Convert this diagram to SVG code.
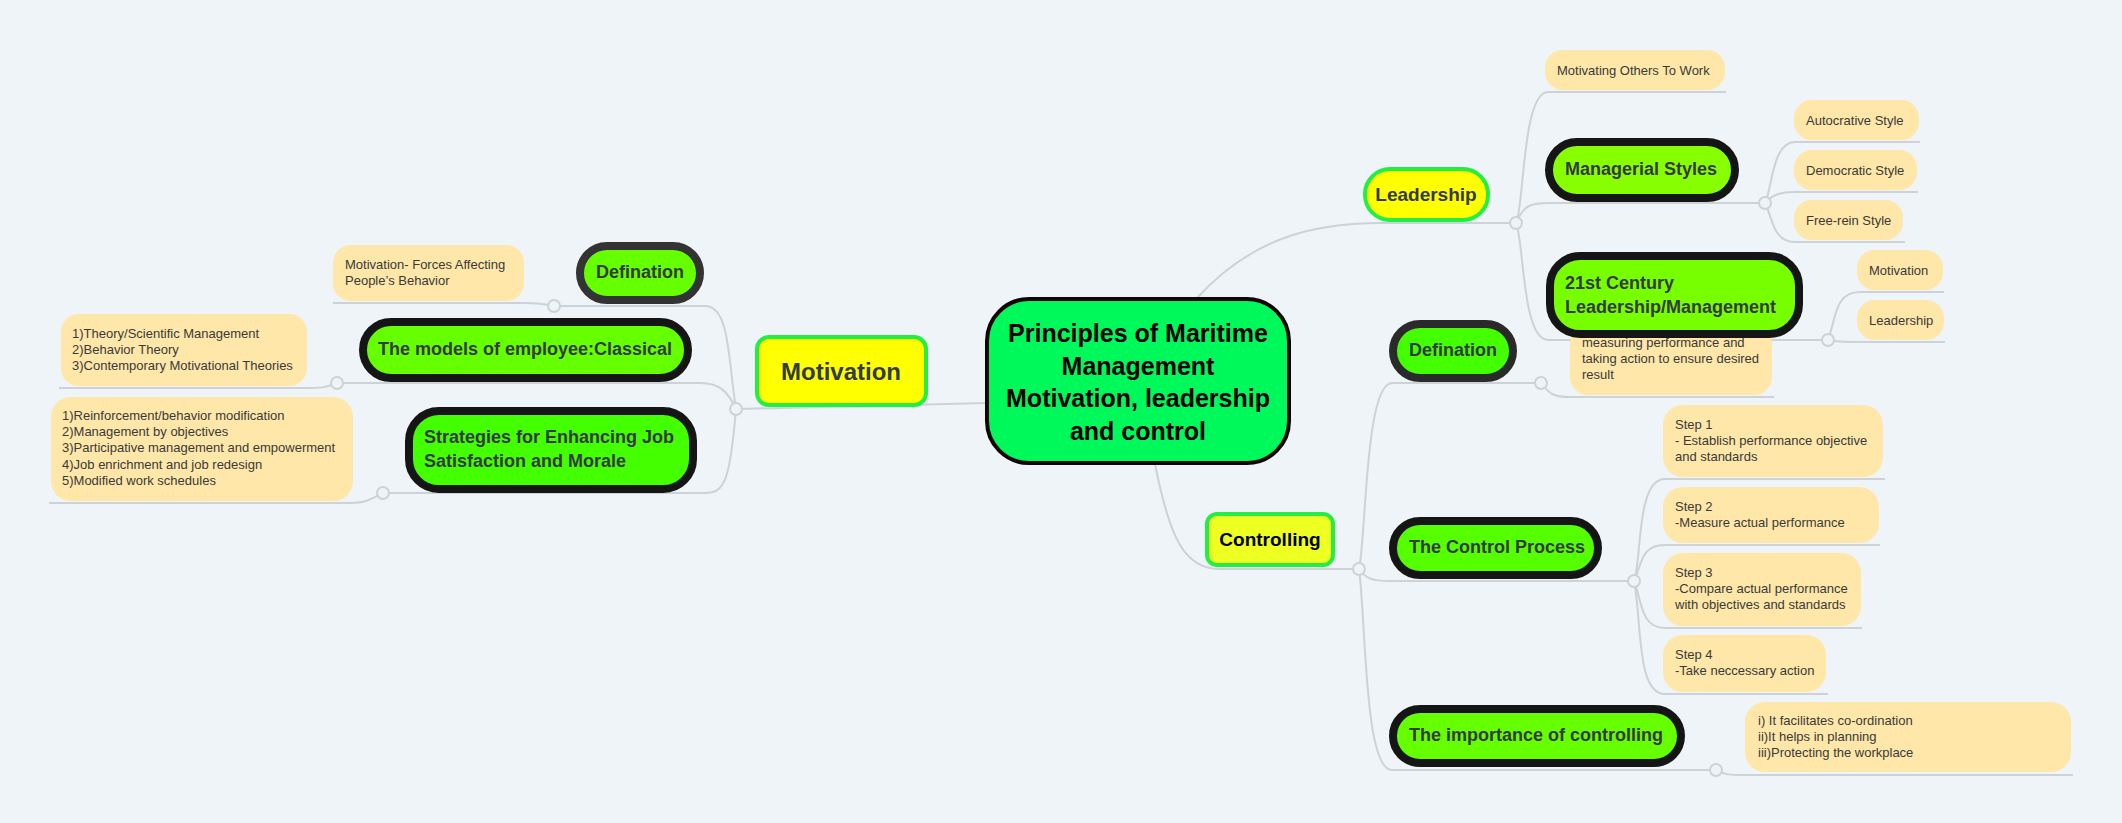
<svg xmlns="http://www.w3.org/2000/svg" width="2122" height="823" viewBox="0 0 2122 823">
<style>
text{font-family:"Liberation Sans",Arial,sans-serif;dominant-baseline:central}
.c{fill:none;stroke:#cdd2d6;stroke-width:2}
.j{fill:#eef3f6;stroke:#cdd2d6;stroke-width:2}
.leaf{fill:#fee7a8}
.lt{font-size:13px;fill:#3a3a3a}
.m{stroke:#151515;stroke-width:8}
.mt{font-size:18px;font-weight:bold;fill:#333a40}
</style>
<rect width="2122" height="823" fill="#eef4f7"/>
<g id="connectors">
<path class="c" d="M987,403 L736,409"/>
<path class="c" d="M736,409 C728,360 730,306 705,306 L554,306"/>
<path class="c" d="M554,306 C545,304 540,303 525,303 L333,303"/>
<path class="c" d="M736,409 C728,392 720,383 700,383 L337,383"/>
<path class="c" d="M337,383 C325,388 320,388 307,388 L59,388"/>
<path class="c" d="M736,409 C730,480 725,493 705,493 L383,493"/>
<path class="c" d="M383,493 C370,500 365,503 350,503 L49,503"/>
<path class="c" d="M1197,298 C1250,240 1310,223 1380,223 L1516,223"/>
<path class="c" d="M1516,223 C1524,210 1522,92 1548,92 L1726,92"/>
<path class="c" d="M1516,223 C1524,205 1530,203 1550,203 L1765,203"/>
<path class="c" d="M1516,223 C1524,240 1522,340 1548,340 L1828,340"/>
<path class="c" d="M1765,203 C1772,190 1772,142 1795,142 L1920,142"/>
<path class="c" d="M1765,203 C1772,195 1780,192 1795,192 L1918,192"/>
<path class="c" d="M1765,203 C1772,215 1772,242 1795,242 L1905,242"/>
<path class="c" d="M1828,340 C1836,320 1834,292 1860,292 L1944,292"/>
<path class="c" d="M1828,340 C1836,342 1845,342 1860,342 L1945,342"/>
<path class="c" d="M1155,464 C1170,540 1185,569 1220,569 L1359,569"/>
<path class="c" d="M1359,569 C1366,540 1365,383 1392,383 L1541,383"/>
<path class="c" d="M1541,383 C1550,395 1555,397 1570,397 L1774,397"/>
<path class="c" d="M1359,569 C1366,578 1370,581 1390,581 L1634,581"/>
<path class="c" d="M1359,569 C1366,620 1364,770 1392,770 L1716,770"/>
<path class="c" d="M1716,770 C1725,775 1730,775 1745,775 L2073,775"/>
<path class="c" d="M1634,581 C1642,560 1636,479 1665,479 L1885,479"/>
<path class="c" d="M1634,581 C1642,565 1640,545 1665,545 L1880,545"/>
<path class="c" d="M1634,581 C1642,600 1640,628 1665,628 L1862,628"/>
<path class="c" d="M1634,581 C1642,620 1636,694 1665,694 L1828,694"/>
</g>
<g id="central"><rect x="987" y="299" width="302" height="164" rx="42" fill="#00f95a" stroke="#120505" stroke-width="4"/>
<text x="1138" y="333" text-anchor="middle" font-size="25" font-weight="bold" fill="#000">Principles of Maritime</text>
<text x="1138" y="366" text-anchor="middle" font-size="25" font-weight="bold" fill="#000">Management</text>
<text x="1138" y="398" text-anchor="middle" font-size="25" font-weight="bold" fill="#000">Motivation, leadership</text>
<text x="1138" y="431" text-anchor="middle" font-size="25" font-weight="bold" fill="#000">and control</text></g>
<g id="motivation"><rect x="757" y="337" width="169" height="68" rx="12" fill="#ffff00" stroke="#22ee44" stroke-width="4"/><text x="841" y="371" text-anchor="middle" font-size="24" font-weight="bold" fill="#333a40">Motivation</text></g>
<g id="def-left"><rect x="580" y="246" width="120" height="54" rx="27" fill="#66ff00" stroke="#333" stroke-width="8"/><text x="640" y="272" text-anchor="middle" class="mt">Defination</text></g>
<g id="leaf-forces"><rect class="leaf" x="333" y="245" width="191" height="56" rx="18"/><text class="lt" x="345" y="264">Motivation- Forces Affecting</text><text class="lt" x="345" y="280">People’s Behavior</text></g>
<g id="models"><rect class="m" x="363" y="322" width="325" height="56" rx="28" fill="#66ff00"/><text class="mt" x="378" y="349">The models of employee:Classical</text></g>
<g id="leaf-models"><rect class="leaf" x="61" y="314" width="246" height="72" rx="18"/><text class="lt" x="72" y="333">1)Theory/Scientific Management</text><text class="lt" x="72" y="349">2)Behavior Theory</text><text class="lt" x="72" y="365">3)Contemporary Motivational Theories</text></g>
<g id="strategies"><rect class="m" x="409" y="411" width="284" height="78" rx="30" fill="#44ff00"/><text class="mt" x="424" y="437">Strategies for Enhancing Job</text><text class="mt" x="424" y="461">Satisfaction and Morale</text></g>
<g id="leaf-strategies"><rect class="leaf" x="51" y="397" width="302" height="104" rx="20"/><text class="lt" x="62" y="415">1)Reinforcement/behavior modification</text><text class="lt" x="62" y="431">2)Management by objectives</text><text class="lt" x="62" y="447">3)Participative management and empowerment</text><text class="lt" x="62" y="464">4)Job enrichment and job redesign</text><text class="lt" x="62" y="480">5)Modified work schedules</text></g>
<g id="leadership"><rect x="1365" y="169" width="123" height="51" rx="25" fill="#ffff00" stroke="#22ee44" stroke-width="4"/><text x="1426" y="194" text-anchor="middle" font-size="19" font-weight="bold" fill="#333a40">Leadership</text></g>
<g id="leaf-motivating"><rect class="leaf" x="1545" y="50" width="180" height="40" rx="18"/><text class="lt" x="1557" y="70">Motivating Others To Work</text></g>
<g id="managerial"><rect class="m" x="1549" y="142" width="186" height="56" rx="28" fill="#88ff00"/><text class="mt" x="1565" y="169">Managerial Styles</text></g>
<g id="leaf-auto"><rect class="leaf" x="1794" y="100" width="125" height="40" rx="18"/><text class="lt" x="1806" y="120">Autocrative Style</text></g>
<g id="leaf-demo"><rect class="leaf" x="1794" y="150" width="123" height="40" rx="18"/><text class="lt" x="1806" y="170">Democratic Style</text></g>
<g id="leaf-free"><rect class="leaf" x="1794" y="200" width="109" height="40" rx="18"/><text class="lt" x="1806" y="220">Free-rein Style</text></g>
<g id="leaf-def-right"><rect class="leaf" x="1570" y="325" width="202" height="70" rx="18"/><text class="lt" x="1582" y="326">Management is process of</text><text class="lt" x="1582" y="342">measuring performance and</text><text class="lt" x="1582" y="358">taking action to ensure desired</text><text class="lt" x="1582" y="374">result</text></g>
<g id="century"><rect class="m" x="1550" y="256" width="249" height="78" rx="30" fill="#77ff00"/><text class="mt" x="1565" y="283">21st Century</text><text class="mt" x="1565" y="307">Leadership/Management</text></g>
<g id="leaf-motivation"><rect class="leaf" x="1857" y="250" width="86" height="40" rx="18"/><text class="lt" x="1869" y="270">Motivation</text></g>
<g id="leaf-leadership"><rect class="leaf" x="1857" y="300" width="87" height="40" rx="18"/><text class="lt" x="1869" y="320">Leadership</text></g>
<g id="controlling"><rect x="1207" y="514" width="126" height="51" rx="10" fill="#eeff22" stroke="#22ee44" stroke-width="4"/><text x="1270" y="539" text-anchor="middle" font-size="19" font-weight="bold" fill="#000">Controlling</text></g>
<g id="def-right"><rect x="1393" y="324" width="120" height="54" rx="27" fill="#44ff00" stroke="#2a2a2a" stroke-width="8"/><text x="1453" y="350" text-anchor="middle" class="mt">Defination</text></g>
<g id="control-process"><rect class="m" x="1393" y="521" width="205" height="54" rx="27" fill="#55ff00"/><text class="mt" x="1409" y="547">The Control Process</text></g>
<g id="step1"><rect class="leaf" x="1663" y="405" width="220" height="72" rx="20"/><text class="lt" x="1675" y="424">Step 1</text><text class="lt" x="1675" y="440">- Establish performance objective</text><text class="lt" x="1675" y="456">and standards</text></g>
<g id="step2"><rect class="leaf" x="1663" y="487" width="216" height="56" rx="20"/><text class="lt" x="1675" y="506">Step 2</text><text class="lt" x="1675" y="522">-Measure actual performance</text></g>
<g id="step3"><rect class="leaf" x="1663" y="553" width="198" height="73" rx="20"/><text class="lt" x="1675" y="572">Step 3</text><text class="lt" x="1675" y="588">-Compare actual performance</text><text class="lt" x="1675" y="604">with objectives and standards</text></g>
<g id="step4"><rect class="leaf" x="1663" y="635" width="163" height="57" rx="20"/><text class="lt" x="1675" y="654">Step 4</text><text class="lt" x="1675" y="670">-Take neccessary action</text></g>
<g id="importance"><rect class="m" x="1393" y="709" width="288" height="54" rx="27" fill="#66ff00"/><text class="mt" x="1409" y="735">The importance of controlling</text></g>
<g id="leaf-importance"><rect class="leaf" x="1745" y="702" width="326" height="70" rx="20"/><text class="lt" x="1758" y="720">i) It facilitates co-ordination</text><text class="lt" x="1758" y="736">ii)It helps in planning</text><text class="lt" x="1758" y="752">iii)Protecting the workplace</text></g>
<g id="junctions">
<circle class="j" cx="736" cy="409" r="6"/><circle class="j" cx="554" cy="306" r="6"/><circle class="j" cx="337" cy="383" r="6"/><circle class="j" cx="383" cy="493" r="6"/>
<circle class="j" cx="1516" cy="223" r="6"/><circle class="j" cx="1765" cy="203" r="6"/><circle class="j" cx="1828" cy="340" r="6"/>
<circle class="j" cx="1359" cy="569" r="6"/><circle class="j" cx="1541" cy="383" r="6"/><circle class="j" cx="1634" cy="581" r="6"/><circle class="j" cx="1716" cy="770" r="6"/>
</g>
</svg>
